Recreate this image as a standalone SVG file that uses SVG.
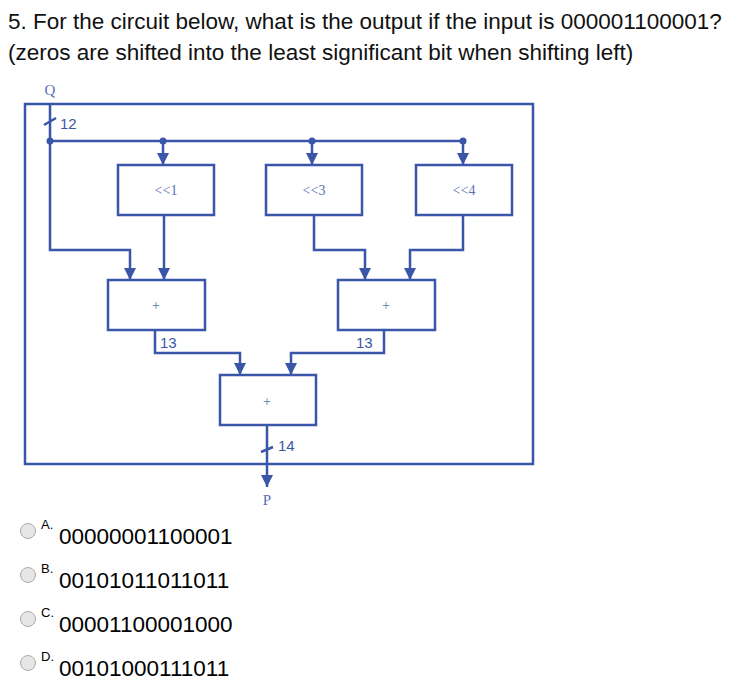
<svg xmlns="http://www.w3.org/2000/svg" width="736" height="684" viewBox="0 0 736 684">
<style>
.q{font-family:"Liberation Sans",Arial,sans-serif;font-size:22.5px;fill:#111}
.w{stroke:#3a56a8;stroke-width:2.5;fill:none}
.b{stroke:#3a56a8;stroke-width:2.5;fill:#fff}
.t{font-family:"Liberation Serif",serif;font-size:14px;fill:#5a6fb5;text-anchor:middle}
.n{font-family:"Liberation Sans",sans-serif;font-size:15px;fill:#3a56a8}
.o{font-family:"Liberation Sans",sans-serif;font-size:22.5px;fill:#000}
.l{font-family:"Liberation Sans",sans-serif;font-size:13px;fill:#000}
.r{fill:#e6e6e6;stroke:#aaa;stroke-width:1}
</style>
<defs><marker id="a" viewBox="0 0 10 10" refX="10" refY="5" markerWidth="5" markerHeight="5" orient="auto" markerUnits="strokeWidth"><path d="M0,0L10,5L0,10z" fill="#3a56a8"/></marker></defs>
<text class="q" x="8" y="29">5. For the circuit below, what is the output if the input is 000001100001?</text>
<text class="q" x="8" y="60">(zeros are shifted into the least significant bit when shifting left)</text>
<rect class="w" x="25" y="104" width="508" height="360"/>
<text class="t" x="50" y="95" style="font-size:15px">Q</text>
<text class="n" x="60" y="129">12</text>
<g id="connectors">
<path class="w" d="M50,104V250H130V280" marker-end="url(#a)"/>
<path class="w" d="M44,125L56,118"/>
<path class="w" d="M50,141H463V165" marker-end="url(#a)"/>
<path class="w" d="M163,141V165" marker-end="url(#a)"/>
<path class="w" d="M312,141V165" marker-end="url(#a)"/>
<circle cx="50" cy="141" r="3.5" fill="#3a56a8"/>
<circle cx="163" cy="141" r="3.5" fill="#3a56a8"/>
<circle cx="312" cy="141" r="3.5" fill="#3a56a8"/>
<circle cx="463" cy="141" r="3.5" fill="#3a56a8"/>
<path class="w" d="M164,215V280" marker-end="url(#a)"/>
<path class="w" d="M314,215V250H365V280" marker-end="url(#a)"/>
<path class="w" d="M463,215V250H410V280" marker-end="url(#a)"/>
<path class="w" d="M155,330V353H240V375" marker-end="url(#a)"/>
<path class="w" d="M384,330V353H291V375" marker-end="url(#a)"/>
<path class="w" d="M267,425V487" marker-end="url(#a)"/>
<path class="w" d="M261,452L273,447"/>
</g>
<text class="n" x="160" y="348">13</text>
<text class="n" x="356" y="348">13</text>
<text class="n" x="278" y="451">14</text>
<text class="t" x="267" y="505" style="font-size:15px">P</text>
<g id="s1"><rect class="b" x="118" y="165" width="96" height="50"/><text class="t" x="166" y="195">&lt;&lt;1</text></g>
<g id="s3"><rect class="b" x="266" y="165" width="96" height="50"/><text class="t" x="314" y="195">&lt;&lt;3</text></g>
<g id="s4"><rect class="b" x="416" y="165" width="96" height="50"/><text class="t" x="464" y="195">&lt;&lt;4</text></g>
<g id="add1"><rect class="b" x="108" y="280" width="97" height="50"/><text class="t" x="156" y="310">+</text></g>
<g id="add2"><rect class="b" x="338" y="280" width="97" height="50"/><text class="t" x="386" y="310">+</text></g>
<g id="add3"><rect class="b" x="220" y="375" width="96" height="50"/><text class="t" x="267" y="406">+</text></g>
<g id="options">
<circle class="r" cx="28" cy="531" r="7.5"/><text class="l" x="41" y="529">A.</text><text class="o" x="59" y="544">00000001100001</text>
<circle class="r" cx="28" cy="575" r="7.5"/><text class="l" x="41" y="573">B.</text><text class="o" x="59" y="588">00101011011011</text>
<circle class="r" cx="28" cy="619" r="7.5"/><text class="l" x="41" y="617">C.</text><text class="o" x="59" y="632">00001100001000</text>
<circle class="r" cx="28" cy="663" r="7.5"/><text class="l" x="41" y="661">D.</text><text class="o" x="59" y="676">00101000111011</text>
</g>
</svg>
